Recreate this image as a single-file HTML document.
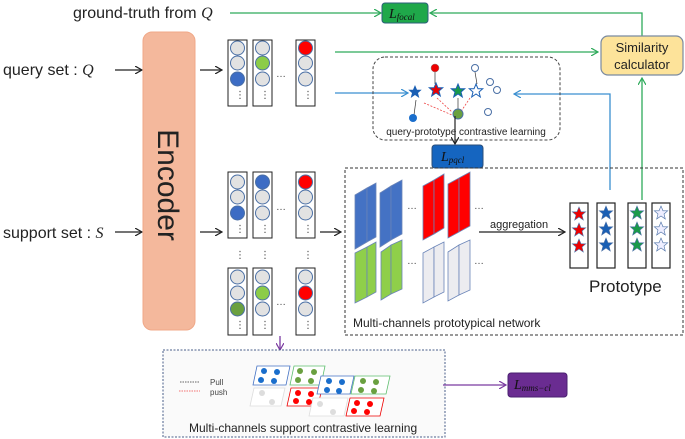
<!DOCTYPE html>
<html><head><meta charset="utf-8"><style>
body{margin:0;background:#fff}
svg{display:block;font-family:"Liberation Sans","DejaVu Sans",sans-serif}
</style></head><body>
<svg width="685" height="439" viewBox="0 0 685 439" xmlns="http://www.w3.org/2000/svg">
<defs>
<marker id="ak" markerWidth="8" markerHeight="8" refX="7" refY="4" orient="auto" markerUnits="userSpaceOnUse"><path d="M0,0 L7,4 L0,8" fill="none" stroke="#222" stroke-width="1.2"/></marker>
<marker id="ag" markerWidth="8" markerHeight="8" refX="7" refY="4" orient="auto" markerUnits="userSpaceOnUse"><path d="M0,0 L7,4 L0,8" fill="none" stroke="#2eaa5a" stroke-width="1.2"/></marker>
<marker id="ab" markerWidth="8" markerHeight="8" refX="7" refY="4" orient="auto" markerUnits="userSpaceOnUse"><path d="M0,0 L7,4 L0,8" fill="none" stroke="#3a8fd0" stroke-width="1.2"/></marker>
<marker id="ap" markerWidth="8" markerHeight="8" refX="7" refY="4" orient="auto" markerUnits="userSpaceOnUse"><path d="M0,0 L7,4 L0,8" fill="none" stroke="#7a3aa0" stroke-width="1.2"/></marker>
<g id="star"><path d="M0,-7 L2,-2.2 L6.7,-2.2 L3,1 L4.3,6 L0,3 L-4.3,6 L-3,1 L-6.7,-2.2 L-2,-2.2Z"/></g>
</defs>

<!-- top green lines -->
<text x="73" y="18" font-size="16" fill="#222">ground-truth from <tspan font-family="Liberation Serif" font-style="italic">Q</tspan></text>
<line x1="230" y1="13" x2="381" y2="13" stroke="#2eaa5a" stroke-width="1.3" marker-end="url(#ag)"/>
<polyline points="642,36 642,13 430,13" fill="none" stroke="#2eaa5a" stroke-width="1.3" marker-end="url(#ag)"/>
<rect x="382" y="3" width="46" height="20" rx="3" fill="#1fa84a" stroke="#2b5f7a"/>
<text x="389" y="18" font-size="14" font-family="Liberation Serif" font-style="italic" fill="#111">L<tspan font-size="9" dy="2">focal</tspan></text>

<!-- similarity -->
<rect x="601" y="36" width="82" height="39" rx="7" fill="#fde39a" stroke="#7a8aa0" stroke-width="1.2"/>
<text x="642" y="52" font-size="13" text-anchor="middle" fill="#222">Similarity</text>
<text x="642" y="69" font-size="13" text-anchor="middle" fill="#222">calculator</text>

<!-- inputs -->
<text x="3" y="75" font-size="16" fill="#222">query  set : <tspan font-family="Liberation Serif" font-style="italic">Q</tspan></text>
<line x1="115" y1="70" x2="142" y2="70" stroke="#222" stroke-width="1.2" marker-end="url(#ak)"/>
<text x="3" y="238" font-size="16" fill="#222">support  set : <tspan font-family="Liberation Serif" font-style="italic">S</tspan></text>
<line x1="115" y1="232" x2="142" y2="232" stroke="#222" stroke-width="1.2" marker-end="url(#ak)"/>

<!-- encoder -->
<rect x="143" y="32" width="52" height="298" rx="9" fill="#f4b89c" stroke="#f0a888"/>
<text transform="translate(158,185) rotate(90)" font-size="30" text-anchor="middle" fill="#222">Encoder</text>
<line x1="200" y1="70" x2="222" y2="70" stroke="#222" stroke-width="1.2" marker-end="url(#ak)"/>
<line x1="200" y1="232" x2="222" y2="232" stroke="#222" stroke-width="1.2" marker-end="url(#ak)"/>

<!-- columns -->
<g stroke="#4a6fa5" stroke-width="1">
<!-- query -->
<rect x="228" y="40" width="19" height="66" fill="#fff" stroke="#222"/>
<circle cx="237.5" cy="48" r="7" fill="#e2e2e2"/><circle cx="237.5" cy="63" r="7" fill="#e2e2e2"/><circle cx="237.5" cy="79" r="7" fill="#3c6cc4"/>
<rect x="253" y="40" width="19" height="66" fill="#fff" stroke="#222"/>
<circle cx="262.5" cy="48" r="7" fill="#e2e2e2"/><circle cx="262.5" cy="63" r="7" fill="#8ccc48"/><circle cx="262.5" cy="79" r="7" fill="#e2e2e2"/>
<rect x="296" y="40" width="19" height="66" fill="#fff" stroke="#222"/>
<circle cx="305.5" cy="48" r="7" fill="#f00"/><circle cx="305.5" cy="63" r="7" fill="#e2e2e2"/><circle cx="305.5" cy="79" r="7" fill="#e2e2e2"/>
<!-- support top -->
<rect x="228" y="172" width="19" height="66" fill="#fff" stroke="#222"/>
<circle cx="237.5" cy="182" r="7" fill="#e2e2e2"/><circle cx="237.5" cy="197" r="7" fill="#e2e2e2"/><circle cx="237.5" cy="213" r="7" fill="#3c6cc4"/>
<rect x="253" y="172" width="19" height="66" fill="#fff" stroke="#222"/>
<circle cx="262.5" cy="182" r="7" fill="#3c6cc4"/><circle cx="262.5" cy="197" r="7" fill="#e2e2e2"/><circle cx="262.5" cy="213" r="7" fill="#e2e2e2"/>
<rect x="296" y="172" width="19" height="66" fill="#fff" stroke="#222"/>
<circle cx="305.5" cy="182" r="7" fill="#f00"/><circle cx="305.5" cy="197" r="7" fill="#e2e2e2"/><circle cx="305.5" cy="213" r="7" fill="#e2e2e2"/>
<!-- support bottom -->
<rect x="228" y="268" width="19" height="67" fill="#fff" stroke="#222"/>
<circle cx="237.5" cy="277" r="7" fill="#e2e2e2"/><circle cx="237.5" cy="293" r="7" fill="#e2e2e2"/><circle cx="237.5" cy="309" r="7" fill="#6aa040"/>
<rect x="253" y="268" width="19" height="67" fill="#fff" stroke="#222"/>
<circle cx="262.5" cy="277" r="7" fill="#e2e2e2"/><circle cx="262.5" cy="293" r="7" fill="#8ccc48"/><circle cx="262.5" cy="309" r="7" fill="#e2e2e2"/>
<rect x="296" y="268" width="19" height="67" fill="#fff" stroke="#222"/>
<circle cx="305.5" cy="277" r="7" fill="#e2e2e2"/><circle cx="305.5" cy="293" r="7" fill="#f00"/><circle cx="305.5" cy="309" r="7" fill="#e2e2e2"/>
</g>
<g font-size="10" fill="#444">
<text x="276" y="77">…</text><text x="276" y="210">…</text><text x="276" y="305">…</text>
<text x="235" y="98">⋮</text><text x="260" y="98">⋮</text><text x="303" y="98">⋮</text>
<text x="235" y="232">⋮</text><text x="260" y="232">⋮</text><text x="303" y="232">⋮</text>
<text x="235" y="328">⋮</text><text x="260" y="328">⋮</text><text x="303" y="328">⋮</text>
<text x="235" y="258">⋮</text><text x="260" y="258">⋮</text><text x="303" y="258">⋮</text>
</g>

<!-- query outputs -->
<line x1="335" y1="52" x2="598" y2="52" stroke="#2eaa5a" stroke-width="1.3" marker-end="url(#ag)"/>
<line x1="335" y1="93" x2="408" y2="93" stroke="#3a8fd0" stroke-width="1.3" marker-end="url(#ab)"/>
<polyline points="610,190 610,94 514,94" fill="none" stroke="#3a8fd0" stroke-width="1.3" marker-end="url(#ab)"/>
<line x1="642" y1="200" x2="642" y2="78" stroke="#2eaa5a" stroke-width="1.3" marker-end="url(#ag)"/>

<!-- qpcl box -->
<rect x="373" y="57" width="187" height="83" rx="12" fill="none" stroke="#444" stroke-dasharray="3,2"/>
<g stroke="#e44" stroke-width="0.8" fill="none" stroke-dasharray="2,1.5">
<line x1="424" y1="103" x2="452" y2="115"/><line x1="437" y1="98" x2="452" y2="112"/><line x1="470" y1="98" x2="460" y2="113"/>
</g>
<line x1="414" y1="115" x2="416" y2="100" stroke="#333" stroke-width="0.7"/>
<line x1="435" y1="72" x2="435" y2="84" stroke="#333" stroke-width="0.7"/>
<line x1="475" y1="72" x2="477" y2="84" stroke="#333" stroke-width="0.7"/>
<line x1="458" y1="111" x2="458" y2="98" stroke="#333" stroke-width="0.7"/>
<circle cx="413" cy="118" r="4" fill="#1a6ecc"/>
<circle cx="435" cy="68" r="4" fill="#e00" stroke="#888" stroke-width="0.5"/>
<circle cx="458" cy="114" r="5" fill="#6aa040" stroke="#4a6fa5"/>
<g fill="#fff" stroke="#4a6fa5"><circle cx="475" cy="68" r="3.5"/><circle cx="490" cy="82" r="3.5"/><circle cx="497" cy="90" r="3.5"/><circle cx="488" cy="112" r="3.5"/></g>
<use href="#star" x="415" y="92" fill="#1a5fb4"/>
<use href="#star" x="436" y="90" fill="#e00" stroke="#1a5fb4"/>
<use href="#star" x="458" y="91" fill="#1a9a4a" stroke="#1a5fb4"/>
<use href="#star" x="476" y="91" fill="#fff" stroke="#1a5fb4"/>
<text x="466" y="135" font-size="10" text-anchor="middle" fill="#222">query-prototype contrastive learning</text>
<line x1="455" y1="116" x2="455" y2="144" stroke="#222" stroke-width="1.2" marker-end="url(#ak)"/>
<rect x="432" y="145" width="51" height="23" rx="3" fill="#1565c0" stroke="#2b4f7a"/>
<text x="441" y="161" font-size="14" font-family="Liberation Serif" font-style="italic" fill="#111">L<tspan font-size="9" dy="2">pqcl</tspan></text>

<!-- prototypical network -->
<line x1="320" y1="232" x2="341" y2="232" stroke="#222" stroke-width="1.2" marker-end="url(#ak)"/>
<rect x="345" y="168" width="338" height="167" fill="none" stroke="#333" stroke-dasharray="3,2"/>
<g stroke="#6a84b8" stroke-width="0.8">
<g fill="#4472c4">
<polygon points="355,195 367,188 367,242 355,249"/><polygon points="367,188 376,183 376,237 367,242"/>
<polygon points="380,193 391,186 391,240 380,247"/><polygon points="391,186 402,180 402,234 391,240"/>
</g>
<g fill="#f00">
<polygon points="423,186 434,180 434,234 423,240"/><polygon points="434,180 444,174 444,228 434,234"/>
<polygon points="448,184 459,178 459,232 448,238"/><polygon points="459,178 470,172 470,226 459,232"/>
</g>
<g fill="#8fcf4a">
<polygon points="355,253 367,247 367,297 355,303"/><polygon points="367,247 376,242 376,292 367,297"/>
<polygon points="381,252 391,245 391,294 381,300"/><polygon points="391,245 402,240 402,289 391,294"/>
</g>
<g fill="#ececf0">
<polygon points="423,253 434,247 434,297 423,303"/><polygon points="434,247 444,242 444,292 434,297"/>
<polygon points="448,252 459,245 459,295 448,301"/><polygon points="459,245 470,240 470,290 459,295"/>
</g>
</g>
<g font-size="10" fill="#444"><text x="407" y="209">…</text><text x="474" y="209">…</text><text x="407" y="264">…</text><text x="474" y="264">…</text></g>
<text x="490" y="228" font-size="11" fill="#222">aggregation</text>
<line x1="479" y1="232" x2="565" y2="232" stroke="#222" stroke-width="1.2" marker-end="url(#ak)"/>
<g fill="#fff" stroke="#222" stroke-width="1.2">
<rect x="570" y="203" width="18" height="65"/><rect x="597" y="203" width="18" height="65"/>
<rect x="628" y="203" width="18" height="65"/><rect x="652" y="203" width="18" height="65"/>
</g>
<g stroke="#4a6fa5" stroke-width="0.6">
<use href="#star" x="579" y="214" fill="#e00"/><use href="#star" x="579" y="230" fill="#e00"/><use href="#star" x="579" y="246" fill="#e00"/>
<use href="#star" x="606" y="213" fill="#1a5fb4"/><use href="#star" x="606" y="229" fill="#1a5fb4"/><use href="#star" x="606" y="245" fill="#1a5fb4"/>
<use href="#star" x="637" y="213" fill="#1a9a4a"/><use href="#star" x="637" y="229" fill="#1a9a4a"/><use href="#star" x="637" y="245" fill="#1a9a4a"/>
<use href="#star" x="661" y="213" fill="#eef"/><use href="#star" x="661" y="229" fill="#eef"/><use href="#star" x="661" y="245" fill="#eef"/>
</g>
<text x="589" y="292" font-size="17" fill="#222">Prototype</text>
<text x="353" y="327" font-size="12" fill="#222">Multi-channels prototypical network</text>

<!-- support contrastive -->
<line x1="280" y1="336" x2="280" y2="350" stroke="#7a3aa0" stroke-width="1.3" marker-end="url(#ap)"/>
<rect x="163" y="350" width="282" height="87" fill="#fafafa" stroke="#4a5f8a" stroke-dasharray="2,1.5"/>
<line x1="180" y1="382" x2="200" y2="382" stroke="#333" stroke-width="0.7" stroke-dasharray="1.5,1"/>
<line x1="179" y1="391" x2="200" y2="391" stroke="#e44" stroke-width="0.7" stroke-dasharray="1.5,1"/>
<text x="210" y="385" font-size="8" fill="#444">Pull</text><text x="210" y="395" font-size="8" fill="#444">push</text>
<g stroke-width="0.8">
<polygon points="257,366 290,366 286,385 253,385" fill="#fff" stroke="#4472c4"/>
<polygon points="294,366 325,366 321,385 290,385" fill="#fff" stroke="#5fbf6f"/>
<polygon points="254,388 285,388 281,406 250,406" fill="#fff" stroke="#ddd"/>
<polygon points="291,388 322,388 318,406 287,406" fill="#fff" stroke="#e00"/>
<polygon points="321,376 354,376 350,394 317,394" fill="#fff" stroke="#4472c4"/>
<polygon points="355,376 390,376 386,394 351,394" fill="#fff" stroke="#5fbf6f"/>
<polygon points="313,398 348,398 344,416 309,416" fill="#fff" stroke="#ddd"/>
<polygon points="350,398 384,398 380,416 346,416" fill="#fff" stroke="#e00"/>
</g>
<g>
<circle cx="264" cy="371" r="3" fill="#1a6ecc"/><circle cx="277" cy="372" r="3" fill="#1a6ecc"/><circle cx="261" cy="380" r="3" fill="#1a6ecc"/><circle cx="274" cy="381" r="3" fill="#1a6ecc"/>
<circle cx="300" cy="371" r="3" fill="#6aa040"/><circle cx="314" cy="372" r="3" fill="#6aa040"/><circle cx="298" cy="380" r="3" fill="#6aa040"/><circle cx="311" cy="381" r="3" fill="#6aa040"/>
<circle cx="262" cy="393" r="3" fill="#ddd"/><circle cx="272" cy="402" r="3" fill="#ddd"/>
<circle cx="298" cy="393" r="3" fill="#f00"/><circle cx="311" cy="394" r="3" fill="#f00"/><circle cx="296" cy="401" r="3" fill="#f00"/><circle cx="309" cy="402" r="3" fill="#f00"/>
<circle cx="329" cy="381" r="3" fill="#1a6ecc"/><circle cx="342" cy="382" r="3" fill="#1a6ecc"/><circle cx="327" cy="390" r="3" fill="#1a6ecc"/><circle cx="339" cy="391" r="3" fill="#1a6ecc"/>
<circle cx="363" cy="381" r="3" fill="#6aa040"/><circle cx="376" cy="382" r="3" fill="#6aa040"/><circle cx="361" cy="390" r="3" fill="#6aa040"/><circle cx="374" cy="391" r="3" fill="#6aa040"/>
<circle cx="320" cy="404" r="3" fill="#ddd"/><circle cx="333" cy="412" r="3" fill="#ddd"/>
<circle cx="357" cy="403" r="3" fill="#f00"/><circle cx="370" cy="404" r="3" fill="#f00"/><circle cx="354" cy="411" r="3" fill="#f00"/><circle cx="367" cy="412" r="3" fill="#f00"/>
</g>
<text x="189" y="432" font-size="12" fill="#222">Multi-channels support contrastive learning</text>
<line x1="443" y1="385" x2="506" y2="385" stroke="#7a3aa0" stroke-width="1.3" marker-end="url(#ap)"/>
<rect x="508" y="373" width="59" height="24" rx="3" fill="#6a2c91" stroke="#4a2070"/>
<text x="514" y="389" font-size="14" font-family="Liberation Serif" font-style="italic" fill="#111">L<tspan font-size="9" dy="2">mms−cl</tspan></text>
</svg>
</body></html>
